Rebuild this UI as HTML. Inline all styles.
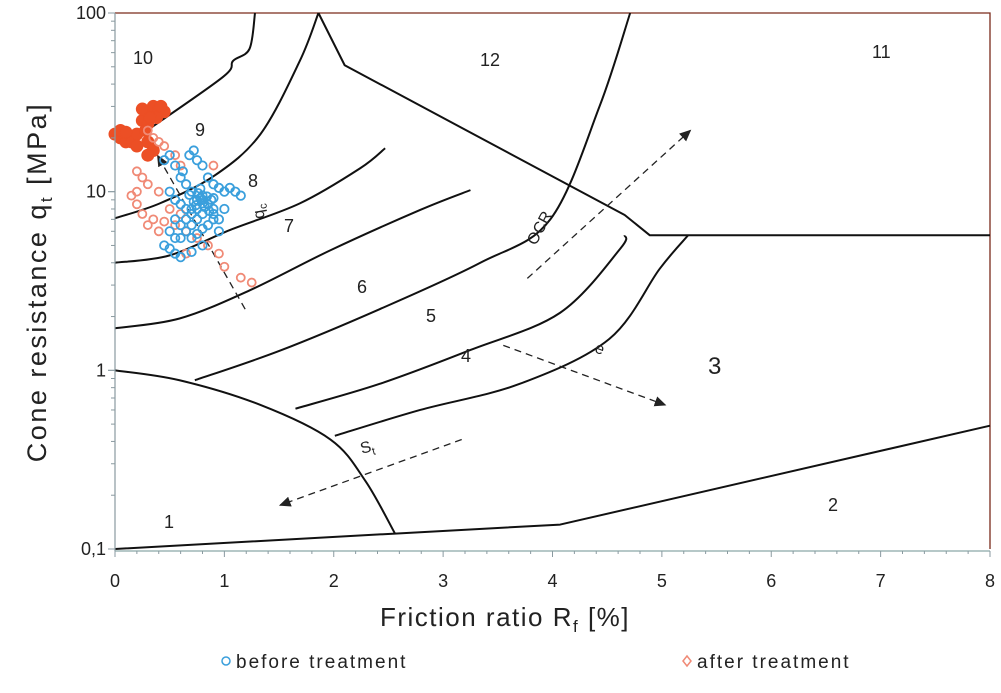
<!DOCTYPE html>
<html><head><meta charset="utf-8"><style>
html,body{margin:0;padding:0;background:#fff}
svg{display:block;font-family:"Liberation Sans",sans-serif}
</style></head><body>
<svg id="chart" width="1001" height="693" viewBox="0 0 1001 693" xmlns="http://www.w3.org/2000/svg">
<defs>
<marker id="ah" markerWidth="10" markerHeight="10" refX="8" refY="4" orient="auto"><path d="M0,0 L9,4 L0,8 Z" fill="#222"/></marker>
</defs>
<g id="zones"></g>
<g id="marks"></g>
<g id="axes"></g>
</svg>
<script>
// ---- data ----
const xTicks = [0,1,2,3,4,5,6,7,8];
const yTicks = [100,10,1,0.1];
const yTickLabels = ["100","10","1","0,1"];
const beforeRf = [0.45,0.5,0.55,0.62,0.68,0.72,0.75,0.8,0.85,0.9,
  0.95,1.0,1.05,1.1,1.15,0.6,0.65,0.7,0.75,0.8,
  0.85,0.9,0.5,0.55,0.6,0.65,0.7,0.75,0.8,0.85,
  0.9,0.95,0.55,0.6,0.65,0.7,0.75,0.8,0.85,0.5,
  0.55,0.6,0.65,0.7,0.75,0.8,0.45,0.5,0.55,0.6,
  0.7,0.8,0.9,0.95,1.0,0.72,0.78,0.82,0.68,0.88,
  0.76,0.84,0.8,0.74,0.86,0.7,0.9,0.78];
const beforeQt = [15,16,14,13,16,17,15,14,12,11,
  10.5,10,10.5,10,9.5,12,11,10,9,9.5,
  8.5,8,10,9,8.5,8,7.5,8,9,8.5,
  7.5,7,7,6.5,7,6.5,7,7.5,6.5,6,
  5.5,5.5,6,5.5,5.8,6.2,5,4.8,4.5,4.3,
  4.6,5,7,6,8,8.8,9.2,8.2,9.6,9.0,
  9.8,9.4,8.6,8.4,7.8,8.0,9.2,10.4];
const afterRf = [0.3,0.35,0.4,0.45,0.55,0.6,0.25,0.2,0.15,0.2,
  0.25,0.35,0.45,0.55,0.65,0.75,0.85,0.95,1.0,1.15,
  1.25,0.65,0.4,0.3,0.2,0.9,0.5,0.6,0.3,0.4];
const afterQt = [22,20,19,18,16,14,12,10,9.5,8.5,
  7.5,7,6.8,6.5,6,5.5,5,4.5,3.8,3.3,
  3.1,4.5,10,11,13,14,8,7.5,6.5,6];
const afterDenseRf = [0,0.05,0.1,0.15,0.2,0.25,0.3,0.35,0.4,0.45,0.25,0.3,0.3,0.35,0.3,0.05,0.1,0.28,0.38,0.42,0.2,0.32];
const afterDenseQt = [21,20,19,19,21,25,28,30,29,28,29,24,19,17,16,22,21.5,22,26,30,18,26];
const boundaries = [
  [[0.32,22.6],[0.99,44],[1.08,54],[1.23,63],[1.28,100]],
  [[0,7.1],[0.41,8.6],[0.91,12.3],[1.33,21],[1.69,54],[1.86,100]],
  [[1.86,100],[2.1,51],[4.66,7.4],[4.89,5.7],[8,5.7]],
  [[0,4.0],[0.5,4.4],[1.05,6.1],[1.69,8.6],[2.24,13.5],[2.47,17.5]],
  [[0,1.72],[0.59,1.95],[1.23,2.8],[1.97,4.7],[2.79,7.9],[3.25,10.2]],
  [[0.73,0.88],[1.51,1.29],[2.42,2.2],[3.34,4.0],[3.98,7.0],[4.43,30],[4.71,100]],
  [[1.65,0.61],[2.42,0.84],[3.25,1.3],[4.07,2.1],[4.62,4.8],[4.66,5.7]],
  [[2.01,0.43],[2.79,0.6],[3.70,0.84],[4.52,1.5],[4.98,3.7],[5.24,5.7]],
  [[0,1.0],[0.59,0.88],[1.33,0.64],[1.97,0.41],[2.29,0.24],[2.56,0.122]],
  [[0,0.1],[2.56,0.122],[4.07,0.137],[8,0.49]]
];
const smoothFlags = [1,1,0,1,1,1,1,1,1,0];
const arrows = [
  [[1.19,2.2],[0.39,15.9]],
  [[3.77,3.27],[5.26,22]],
  [[3.55,1.38],[5.03,0.64]],
  [[3.17,0.41],[1.51,0.176]]
];
// ---- axes ----
const X0=115,X1=990,YT=13,YB=549;
const xs=v=>X0+(X1-X0)*v/8;
const ys=v=>YB-(YB-YT)*(Math.log10(v)+1)/3;
const NS="http://www.w3.org/2000/svg";
function mk(tag,attrs,parent){const e=document.createElementNS(NS,tag);for(const k in attrs)e.setAttribute(k,attrs[k]);parent.appendChild(e);return e;}
function pathFor(pts,smooth){
  const p=pts.map(d=>[xs(d[0]),ys(d[1])]);
  let s='M'+p[0][0]+','+p[0][1];
  if(!smooth){for(let i=1;i<p.length;i++)s+='L'+p[i][0]+','+p[i][1];return s;}
  for(let i=0;i<p.length-1;i++){
    const p0=p[Math.max(0,i-1)],p1=p[i],p2=p[i+1],p3=p[Math.min(p.length-1,i+2)];
    const c1=[p1[0]+(p2[0]-p0[0])/6,p1[1]+(p2[1]-p0[1])/6];
    const c2=[p2[0]-(p3[0]-p1[0])/6,p2[1]-(p3[1]-p1[1])/6];
    s+='C'+c1+' '+c2+' '+p2;
  }
  return s;
}
const gz=document.getElementById('zones'),gm=document.getElementById('marks'),ga=document.getElementById('axes');
let fr=mk('path',{d:`M${X0},${YT}H${X1}V${YB}`,fill:'none',stroke:'#7a2a1a','stroke-width':1.3},gz);


boundaries.forEach((b,i)=>{
  const p=mk('path',{d:pathFor(b,smoothFlags[i]),fill:'none',stroke:'#111','stroke-width':2,'stroke-linejoin':'round'},gz);
  
  
});
arrows.forEach((a,i)=>{
  const l=mk('line',{x1:xs(a[0][0]),y1:ys(a[0][1]),x2:xs(a[1][0]),y2:ys(a[1][1]),stroke:'#222','stroke-width':1.3,'stroke-dasharray':'7,5','marker-end':'url(#ah)'},gz);
  
  
});
afterDenseRf.forEach((v,i)=>{
  const c=mk('circle',{cx:xs(v),cy:ys(afterDenseQt[i]),r:6,fill:'#ec4f25',stroke:'#ec4f25'},gm);
  
  
});
afterRf.forEach((v,i)=>{
  const c=mk('circle',{cx:xs(v),cy:ys(afterQt[i]),r:4,fill:'none',stroke:'#f08a76','stroke-width':1.8},gm);
  
  
});
beforeRf.forEach((v,i)=>{
  const c=mk('circle',{cx:xs(v),cy:ys(beforeQt[i]),r:4.2,fill:'none',stroke:'#3a9fdc','stroke-width':1.8},gm);
  
  
});
mk('line',{x1:X0,y1:YT,x2:X0,y2:YB+2,stroke:'#8a9aa0','stroke-width':1.2},ga);
mk('line',{x1:X0,y1:YB+2,x2:X1,y2:YB+2,stroke:'#8aa6a8','stroke-width':1.2},ga);
for(let d=-1;d<2;d++)for(let m=1;m<=10;m++){const y=ys(m*Math.pow(10,d));mk('line',{x1:X0-(m==1||m==10?7:4),y1:y,x2:X0,y2:y,stroke:'#8a9aa0'},ga);}
for(let v=0;v<=8.001;v+=0.2){const x=xs(v);mk('line',{x1:x,y1:YB+2,x2:x,y2:YB+(Math.abs(v-Math.round(v))<0.01?8:5),stroke:'#8a9aa0'},ga);}
xTicks.forEach(v=>{const t=mk('text',{x:xs(v),y:587,'text-anchor':'middle','font-size':18,fill:'#222'},ga);t.textContent=v;
  
  });
yTicks.forEach((v,i)=>{const t=mk('text',{x:106,y:ys(v)+6,'text-anchor':'end','font-size':18,fill:'#222'},ga);t.textContent=yTickLabels[i];
  
  });
</script>
<svg style="position:absolute;left:0;top:0" width="1001" height="693">
<g font-family="Liberation Sans, sans-serif" fill="#222">
<text x="505" y="626" text-anchor="middle" font-size="26" letter-spacing="1.5">Friction ratio R<tspan font-size="17" dy="6">f</tspan><tspan dy="-6"> [%]</tspan></text>
<text transform="translate(46,282) rotate(-90)" text-anchor="middle" font-size="27" letter-spacing="2.5">Cone resistance q<tspan font-size="17" dy="6">t</tspan><tspan dy="-6"> [MPa]</tspan></text>
<g font-size="19" letter-spacing="2">
<circle cx="226" cy="661" r="4" fill="none" stroke="#3a9fdc" stroke-width="1.5"/>
<text x="236" y="668">before treatment</text>
<path d="M687,656 L691,661 L687,666 L683,661 Z" fill="none" stroke="#f08a76" stroke-width="1.5"/>
<text x="697" y="668">after treatment</text>
</g>
<g font-size="18">
<text x="133" y="64">10</text><text x="480" y="66">12</text><text x="872" y="58">11</text>
<text x="195" y="136">9</text><text x="248" y="187">8</text><text x="284" y="232">7</text>
<text x="357" y="293">6</text><text x="426" y="322">5</text><text x="461" y="362">4</text>
<text x="708" y="374" font-size="24">3</text><text x="828" y="511">2</text><text x="164" y="528">1</text>
<text x="595" y="354" font-size="16" transform="rotate(20 600 350)">e</text>
<text x="514" y="240" font-size="16" transform="rotate(-62 530 225)">OCR</text>
<text x="253" y="220" font-size="16" transform="rotate(-100 258 214)">q<tspan font-size="11" dy="4">c</tspan></text>
<text x="360" y="452" font-size="16" transform="rotate(-15 368 446)">S<tspan font-size="11" dy="4">t</tspan></text>
</g>
</g>
</svg>
</body></html>
